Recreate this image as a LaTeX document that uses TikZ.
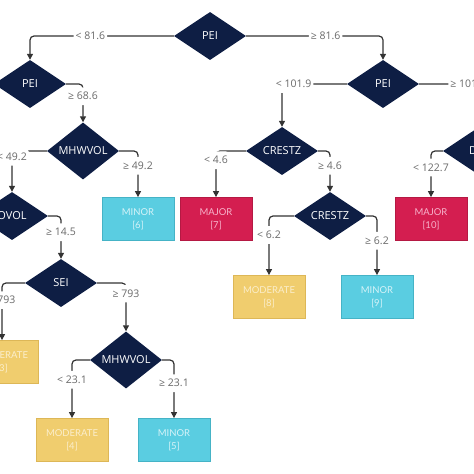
\documentclass[tikz,border=0pt]{standalone}
\usepackage{fontspec}
\setmainfont{Open Sans}
\newfontfamily\boxfont{Lato}
\usetikzlibrary{shapes.geometric}
\usetikzlibrary{arrows.meta}
\definecolor{navy}{HTML}{0E1E44}
\definecolor{linec}{HTML}{333333}
\definecolor{labelc}{HTML}{6A6A6A}
\definecolor{minorc}{HTML}{5ACDE1}
\definecolor{minord}{HTML}{45B3C6}
\definecolor{minort}{HTML}{D6F3F8}
\definecolor{majorc}{HTML}{D41E50}
\definecolor{majord}{HTML}{B51943}
\definecolor{majort}{HTML}{F7B3CB}
\definecolor{modc}{HTML}{F0CD6E}
\definecolor{modd}{HTML}{DDB757}
\definecolor{modt}{HTML}{FBEECB}

\begin{document}
\begin{tikzpicture}[x=1pt,y=-1pt,
		split/.style={diamond,fill=navy,text=white,minimum width=72pt,minimum height=48pt,inner sep=0pt,font=\fontsize{11}{13}\selectfont},
		leaf/.style={rectangle,line width=0.8pt,minimum width=72pt,minimum height=43pt,align=center,font=\boxfont\fontsize{9.5}{12.5}\selectfont},
		minorbox/.style={leaf,fill=minorc,draw=minord,text=minort},
		majorbox/.style={leaf,fill=majorc,draw=majord,text=majort},
		modbox/.style={leaf,fill=modc,draw=modd,text=modt},
		branch/.style={draw=linec,line width=1.2pt,rounded corners=4pt,-{Triangle[length=6pt,width=6pt]}},
		cut/.style={fill=white,text=labelc,inner xsep=2pt,inner ysep=5pt,font=\fontsize{10.5}{12}\selectfont}]
				\useasboundingbox (0,0) rectangle (474,474);
				\clip (0,0) rectangle (474,474);
				% splits
				\node[split] (root) at (210,36){PEI};
				\node[split] (pei2) at (30,84){PEI};
				\node[split] (pei3) at (383,84){PEI};
				\node[split] (mhw1) at (83,151){MHWVOL};
				\node[split] (mhw2) at (12,216){OVOL};
				\node[split] (crest1) at (282,151){CRESTZ};
				\node[split] (crest2) at (330,216){CRESTZ};
				\node[split] (dt) at (479,151){DTS};
				\node[split] (sei) at (61,283){SEI};
				\node[split] (mhw3) at (126,360){MHWVOL};
				% leaves
				\node[minorbox] (minor6) at (138,219){MINOR\\{[6]}};
				\node[majorbox] (major7) at (216,219){MAJOR\\{[7]}};
				\node[majorbox] (major10) at (431,219){MAJOR\\{[10]}};
				\node[modbox] (mod8) at (269,297){MODERATE\\{[8]}};
				\node[minorbox] (minor9) at (377,297){MINOR\\{[9]}};
				\node[modbox] (mod3) at (2,362){MODERATE\\{[3]}};
				\node[modbox] (mod4) at (72,440){MODERATE\\{[4]}};
				\node[minorbox] (minor5) at (174,440){MINOR\\{[5]}};
				% branches
				\draw[branch] (root.west) -| node[cut,pos=0.29]{< 81.6} (pei2.north);
				\draw[branch] (root.east) -| node[cut,pos=0.29]{≥ 81.6} (pei3.north);
				\draw[branch] (pei2.east) -| node[cut,pos=0.66]{≥ 68.6} (mhw1.north);
				\draw[branch] (pei3.west) -| node[cut,pos=0.41]{< 101.9} (crest1.north);
				\draw[branch] (pei3.east) -| node[cut,pos=0.41]{≥ 101.9} (dt.north);
				\draw[branch] (mhw1.west) -| node[cut,pos=0.57]{< 49.2} (mhw2.north);
				\draw[branch] (mhw1.east) -| node[cut,pos=0.66]{≥ 49.2} (minor6.north);
				\draw[branch] (crest1.west) -| node[cut,pos=0.6]{< 4.6} (major7.north);
				\draw[branch] (crest1.east) -| node[cut,pos=0.68]{≥ 4.6} (crest2.north);
				\draw[branch] (crest2.west) -| node[cut,pos=0.66]{< 6.2} (mod8.north);
				\draw[branch] (crest2.east) -| node[cut,pos=0.71]{≥ 6.2} (minor9.north);
				\draw[branch] (dt.west) -| node[cut,pos=0.68]{< 122.7} (major10.north);
				\draw[branch] (mhw2.east) -| node[cut,pos=0.69]{≥ 14.5} (sei.north);
				\draw[branch] (sei.west) -| node[cut,pos=0.65]{< 793} (mod3.north);
				\draw[branch] (sei.east) -| node[cut,pos=0.61]{≥ 793} (mhw3.north);
				\draw[branch] (mhw3.west) -| node[cut,pos=0.67]{< 23.1} (mod4.north);
				\draw[branch] (mhw3.east) -| node[cut,pos=0.70]{≥ 23.1} (minor5.north);
			\end{tikzpicture}
\end{document}
